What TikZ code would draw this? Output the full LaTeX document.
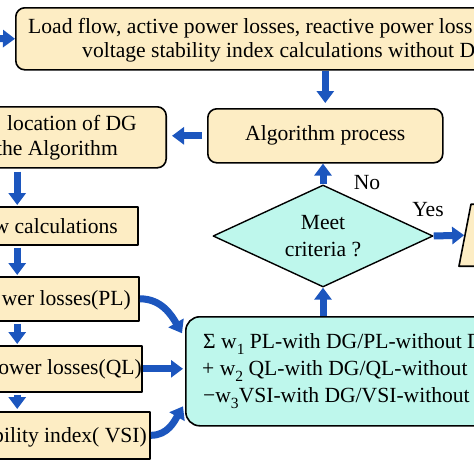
\documentclass[tikz,border=0pt]{standalone}
\usepackage{fontspec}
\setmainfont{Liberation Serif}
\usetikzlibrary{arrows.meta,calc,positioning,shapes.geometric}
\definecolor{boxbeige}{RGB}{253,237,196}
\definecolor{boxcyan}{RGB}{190,247,236}
\definecolor{flowblue}{RGB}{28,86,190}
\newcommand{\lowsub}[1]{\raisebox{-0.32em}{\scalebox{0.72}{#1}}}
\tikzset{
  every node/.style={font=\fontsize{21.6}{27}\selectfont},
  stepbox/.style={draw,line width=1.6pt,fill=boxbeige,inner sep=0pt},
  roundbox/.style={stepbox,rounded corners=9pt},
  goalbox/.style={draw,line width=1.6pt,fill=boxcyan,rounded corners=14pt,inner sep=0pt},
  decide/.style={draw,line width=1.4pt,fill=boxcyan,diamond,aspect=2.2,inner sep=0pt,align=center},
  outbox/.style={draw,line width=1.6pt,fill=boxbeige,trapezium,trapezium left angle=81,
    trapezium right angle=81,trapezium stretches=true,inner sep=3pt},
  flow/.style={draw=flowblue,line width=7pt,line cap=butt,-{Triangle[length=12pt,width=17pt]}},
  lbl/.style={inner sep=0pt},
}

\begin{document}
\begin{tikzpicture}[x=1pt,y=-1pt,line cap=round,line join=round]
  \useasboundingbox (0,0) rectangle (474,474);
  \clip (0,0) rectangle (474,474);
  % boxes
  \node[roundbox,anchor=north west,minimum width=620pt,minimum height=62pt] (load) at (15,7) {};
  \node[roundbox,anchor=north west,minimum width=235pt,minimum height=54pt] (algo) at (207,108) {Algorithm process};
  \node[roundbox,anchor=north east,minimum width=298pt,minimum height=61pt] (loc) at (167,106) {};
  \node[stepbox,anchor=north east,minimum width=242pt,minimum height=38pt] (calc) at (139,206) {};
  \node[stepbox,anchor=north east,minimum width=244pt,minimum height=44pt] (pl) at (140,276) {};
  \node[stepbox,anchor=north east,minimum width=250pt,minimum height=46pt] (ql) at (143,345) {};
  \node[stepbox,anchor=north east,minimum width=266pt,minimum height=47pt] (vsi) at (151,411) {};
  \node[goalbox,anchor=north west,minimum width=420pt,minimum height=109pt] (goal) at (185,316) {};
  \node[decide,minimum width=220pt,minimum height=102pt] (crit) at (323,236) {Meet\\criteria ?};
  \node[outbox,minimum width=100pt,minimum height=62pt,anchor=bottom left corner] (outp) at (458,267) {};
  % texts
  \node[lbl,anchor=base west] (loadA) at (28,33) {Load flow, active power losses, reactive power loss};
  \node[lbl,anchor=base west] (loadB) at (82,57) {voltage stability index calculations without D};
  \node[lbl,anchor=base east] (locA) at (137,130) {location of DG};
  \node[lbl,anchor=base east] (locB) at (118,155) {the Algorithm};
  \node[lbl,anchor=base east] (calcT) at (118,233) {w calculations};
  \node[lbl,anchor=base east] (plT) at (131,305) {wer losses(PL)};
  \node[lbl,anchor=base east] (qlT) at (142,374) {ower losses(QL)};
  \node[lbl,anchor=base east] (vsiT) at (147,442) {bility index( VSI)};
  \node[lbl,anchor=base west] (goalA) at (203,348) {Σ w\lowsub{1} PL-with DG/PL-without D};
  \node[lbl,anchor=base west] (goalB) at (202,375) {+ w\lowsub{2} QL-with DG/QL-without};
  \node[lbl,anchor=base west] (goalC) at (203,402) {−w\lowsub{3}VSI-with DG/VSI-without};
  \node[lbl] (no) at (367,183) {No};
  \node[lbl] (yes) at (428,210) {Yes};
  % arrows
  \coordinate (entry) at (-40,38);
  \draw[flow] (entry) -- (load.west);
  \draw[flow,shorten >=5pt] (load.south -| algo.north) -- (algo.north);
  \draw[flow,shorten <=5pt,shorten >=5pt] (algo.west) -- (algo.west -| loc.east);
  \draw[flow,shorten <=3pt,shorten >=1pt] (loc.south) -- (calc.north);
  \draw[flow,shorten <=2pt,shorten >=1pt] (calc.south) -- (pl.north);
  \draw[flow,shorten <=2pt,shorten >=1pt] (pl.south) -- (ql.north);
  \draw[flow,shorten <=2pt,shorten >=2pt] (ql.south) -- (vsi.north);
  \draw[flow] (pl.east) to[out=0,in=120] ($(goal.west)+(-3,-38)$);
  \draw[flow,shorten >=2pt] (ql.east) -- (ql.east -| goal.west);
  \draw[flow] (vsi.east) to[out=0,in=240] ($(goal.west)+(-2,35)$);
  \draw[flow] (goal.north -| crit.south) -- (crit.south);
  \draw[flow] (crit.north) -- (crit.north |- algo.south);
  \draw[flow] (crit.east) -- (outp.west);
\end{tikzpicture}
\end{document}
